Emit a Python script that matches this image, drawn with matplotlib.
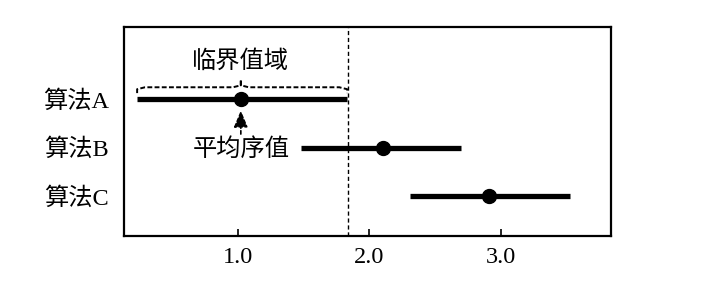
import matplotlib
matplotlib.use('Agg')
import matplotlib.pyplot as plt
import numpy as np

# data
algorithms = ['算法A', '算法B', '算法C']
mean_rank = [1.02, 2.10, 2.91]
low = [0.23, 1.48, 2.31]
high = [1.83, 2.70, 3.53]
critical_value = 1.84
xticks = [1.0, 2.0, 3.0]
xtick_labels = ['1.0', '2.0', '3.0']

plt.rcParams['font.family'] = ['Liberation Serif', 'Noto Sans CJK SC']
plt.rcParams['font.size'] = 17

fig = plt.figure(figsize=(7.14, 2.86), dpi=100)
ax = fig.add_axes([124 / 714, 1 - 235.5 / 286, (611 - 124) / 714, (235.5 - 27) / 286])

ypos = np.arange(len(algorithms))
for y, lo, hi, m in zip(ypos, low, high, mean_rank):
    ax.plot([lo, hi], [y, y], color='black', lw=3.8, solid_capstyle='butt', zorder=3)
    ax.plot(m, y, 'o', color='black', markersize=10, zorder=4)

ax.axvline(critical_value, color='black', lw=1.0, ls=(0, (3, 2)), zorder=2)

# dashed brace over algorithm A's interval
lo, hi, m = low[0], high[0], mean_rank[0]
y0, y1, y2 = -0.12, -0.24, -0.40
r = 0.06
bx = [lo, lo, lo + r, m - r, m, m, m, m + r, hi - r, hi, hi]
by = [y0, y1 + 0.04, y1, y1, y1 - 0.04, y2, y1 - 0.04, y1, y1, y1 + 0.04, y0]
ax.plot(bx, by, color='black', lw=1.4, ls=(0, (2.5, 1.2)), zorder=3)
ax.text(m, -0.78, '临界值域', ha='center', va='center', fontsize=17.5,
        family=['Noto Sans CJK SC'])

# arrow to the mean rank marker
ax.annotate('', xy=(m, 0.18), xytext=(m, 0.78),
            arrowprops=dict(arrowstyle='-|>,head_length=0.6,head_width=0.25', color='black',
                            lw=1.2, ls=(0, (2, 1.5))))
ax.text(m, 1.02, '平均序值', ha='center', va='center', fontsize=17.5,
        family=['Noto Sans CJK SC'])

ax.set_xlim(0.13, 3.84)
ax.set_ylim(2.81, -1.48)
ax.set_yticks(ypos)
ax.set_yticklabels(algorithms, fontsize=17.5)
ax.set_xticks(xticks)
ax.set_xticklabels(xtick_labels, fontsize=17.5)
ax.tick_params(axis='y', length=0, pad=11)
ax.tick_params(axis='x', direction='in', length=5, width=1.2, pad=8)
for s in ax.spines.values():
    s.set_linewidth(1.6)

fig.savefig('out.png', dpi=100)
